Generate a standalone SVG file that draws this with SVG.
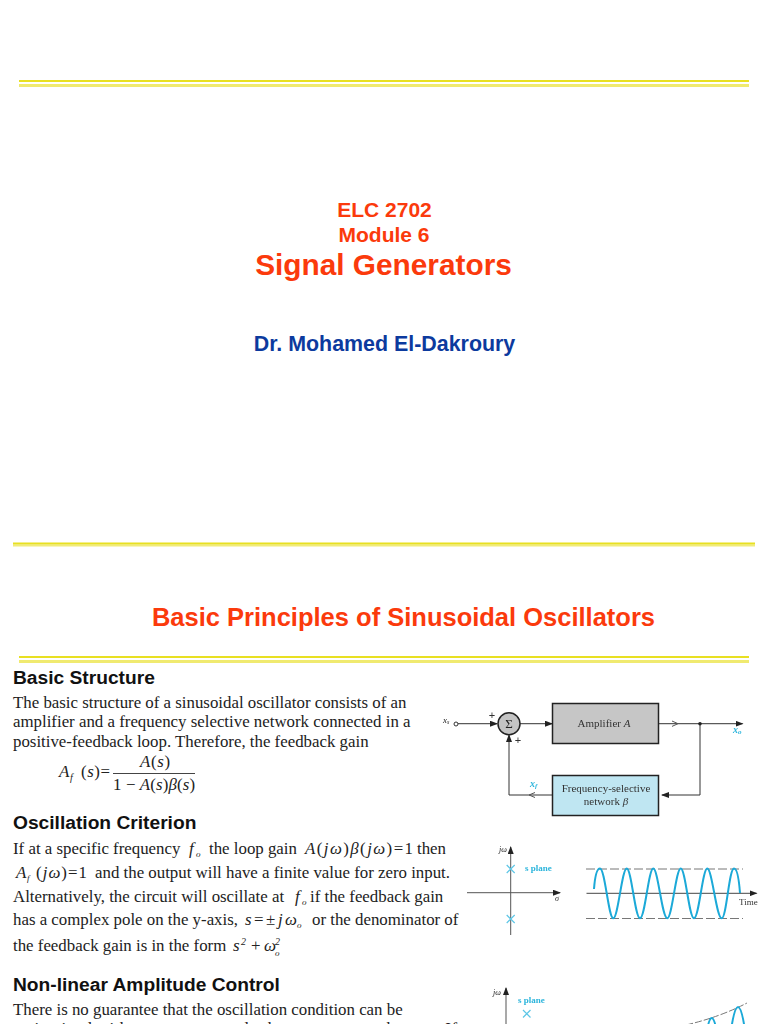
<svg xmlns="http://www.w3.org/2000/svg" width="768" height="1024" viewBox="0 0 768 1024">
<style>
.t{font-family:"Liberation Serif",serif;font-size:16.85px;fill:#222}
.i{font-family:"Liberation Serif",serif;font-style:italic;fill:#222}
.h{font-family:"Liberation Sans",sans-serif;font-weight:700;font-size:19.2px;fill:#111}
.r{font-family:"Liberation Sans",sans-serif;font-weight:700;fill:#fb3a0c;text-anchor:middle}
.c{fill:#2db5dc;font-family:"Liberation Serif",serif}
.b{font-family:"Liberation Serif",serif;font-size:11px;text-anchor:middle;fill:#333}
.k{stroke:#333;fill:none;stroke-width:1}
.y1{stroke:#e8e022;stroke-width:2}
.y2{stroke:#f0ea70;stroke-width:3}
.x{stroke:#5cc6e6;stroke-width:1.200;fill:none}
</style>
<defs>
<marker id="a" markerWidth="8" markerHeight="6" refX="7" refY="3" orient="auto"><path d="M0 0L8 3L0 6z" fill="#222"/></marker>
<filter id="soft" x="-5%" y="-5%" width="110%" height="110%"><feGaussianBlur stdDeviation="0.35"/></filter>
</defs>
<rect width="768" height="1024" fill="#fff"/>
<g id="rules">
<path class="y1" d="M19 81H749"/><path class="y2" d="M19 85.500H749"/>
<path class="y1" d="M13 543.500H755"/><path class="y1" d="M13 545.500H755" opacity=".6"/>
<path class="y1" d="M19 657H749"/><path class="y2" d="M19 661.500H749"/>
</g>
<g id="title">
<text class="r" x="384.500" y="217" font-size="21">ELC 2702</text>
<text class="r" x="384" y="242" font-size="21">Module 6</text>
<text class="r" x="383.500" y="275" font-size="29.800">Signal Generators</text>
<text x="384.500" y="351" text-anchor="middle" font-family="Liberation Sans,sans-serif" font-weight="700" font-size="21.400" fill="#0c3a9e">Dr. Mohamed El-Dakroury</text>
<text class="r" x="403.500" y="626" font-size="25.500">Basic Principles of Sinusoidal Oscillators</text>
</g>
<g id="text-left">
<text class="h" x="13" y="684">Basic Structure</text>
<text class="t" x="13" y="708">The basic structure of a sinusoidal oscillator consists of an</text>
<text class="t" x="13" y="727">amplifier and a frequency selective network connected in a</text>
<text class="t" x="13" y="747">positive-feedback loop. Therefore, the feedback gain</text>
<text class="i" x="59" y="777" font-size="17">A</text><text class="i" x="70" y="781" font-size="10">f</text>
<text class="t" x="81" y="777" textLength="29">(<tspan font-style="italic">s</tspan>)=</text>
<text class="t" x="140" y="767" textLength="30"><tspan font-style="italic">A</tspan>(<tspan font-style="italic">s</tspan>)</text>
<path d="M113 773.500H195" stroke="#444"/>
<text class="t" x="113" y="790" textLength="82">1 − <tspan font-style="italic">A</tspan>(<tspan font-style="italic">s</tspan>)<tspan font-style="italic">β</tspan>(<tspan font-style="italic">s</tspan>)</text>
<text class="h" x="13" y="829">Oscillation Criterion</text>
<text class="t" x="13" y="854">If at a specific frequency</text>
<text class="i" x="189" y="854" font-size="17">f</text><text class="i" x="196" y="857" font-size="9">o</text>
<text class="t" x="209" y="854">the loop gain</text>
<text class="t" x="305" y="854" textLength="108"><tspan font-style="italic">A</tspan>(<tspan font-style="italic">jω</tspan>)<tspan font-style="italic">β</tspan>(<tspan font-style="italic">jω</tspan>)=1</text>
<text class="t" x="417" y="854">then</text>
<text class="i" x="16" y="878" font-size="17">A</text><text class="i" x="27" y="881" font-size="9">f</text>
<text class="t" x="36" y="878" textLength="51">(<tspan font-style="italic">jω</tspan>)=1</text>
<text class="t" x="95" y="878">and the output will have a finite value for zero input.</text>
<text class="t" x="13" y="902">Alternatively, the circuit will oscillate at</text>
<text class="i" x="295" y="902" font-size="17">f</text><text class="i" x="302" y="905" font-size="9">o</text>
<text class="t" x="310" y="902">if the feedback gain</text>
<text class="t" x="13" y="925">has a complex pole on the y-axis,</text>
<text class="t" x="245" y="925" textLength="52"><tspan font-style="italic">s</tspan>=±<tspan font-style="italic">jω</tspan></text><text class="i" x="297" y="928" font-size="9">o</text>
<text class="t" x="312" y="925">or the denominator of</text>
<text class="t" x="13" y="951">the feedback gain is in the form</text>
<text class="i" x="233" y="951" font-size="17">s</text><text class="i" x="241" y="945" font-size="10" font-style="normal">2</text><text class="t" x="251" y="951">+</text><text class="i" x="264" y="951" font-size="17">ω</text><text class="i" x="275" y="956" font-size="9">o</text><text class="i" x="275" y="945" font-size="10" font-style="normal">2</text>
<text class="h" x="13" y="991">Non-linear Amplitude Control</text>
<text class="t" x="13" y="1015">There is no guarantee that the oscillation condition can be</text>
<text class="t" x="13" y="1034" textLength="444">maintained with temperature and other component changes. If</text>
</g>
<g id="connectors" filter="url(#soft)">
<path class="k" d="M458 723.700H497" marker-end="url(#a)"/>
<path class="k" d="M520 723.700H552" marker-end="url(#a)"/>
<path class="k" d="M659 723.700H742.500" marker-end="url(#a)"/>
<path d="M672 721l6 2.700l-6 2.700" fill="none" stroke="#555"/>
<path class="k" d="M700 723.700V795H662" marker-end="url(#a)"/>
<path class="k" d="M552 795H509V735" marker-end="url(#a)"/>
<path d="M535 792.500l-6 2.500l6 2.500" fill="none" stroke="#555"/>
<circle cx="700" cy="723.700" r="1.800" fill="#222"/>
</g>
<g id="node-input" filter="url(#soft)"><circle cx="456" cy="724" r="2" fill="#fff" stroke="#333"/><text class="i" x="443" y="723" font-size="9">x<tspan font-size="6" dy="1">s</tspan></text></g>
<g id="node-sum" filter="url(#soft)"><circle cx="509" cy="723.700" r="11" fill="#c4c4c4" stroke="#222" stroke-width="1.500"/><text x="509" y="728" font-family="Liberation Serif,serif" font-size="13" text-anchor="middle" fill="#222">Σ</text>
<text x="492" y="719" font-family="Liberation Sans,sans-serif" font-size="11" text-anchor="middle" fill="#333">+</text><text x="518" y="744" font-family="Liberation Sans,sans-serif" font-size="11" text-anchor="middle" fill="#333">+</text></g>
<g id="node-amplifier" filter="url(#soft)"><rect x="552.500" y="703.500" width="106" height="40" fill="#c6c6c6" stroke="#222" stroke-width="1.500"/><text class="b" x="604" y="727">Amplifier <tspan font-style="italic">A</tspan></text></g>
<g id="node-network" filter="url(#soft)"><rect x="552.500" y="775.500" width="106" height="40" fill="#bfe6f2" stroke="#222" stroke-width="1.500"/><text class="b" x="606" y="792">Frequency-selective</text><text class="b" x="606" y="804.500">network <tspan font-style="italic">β</tspan></text></g>
<g id="labels" filter="url(#soft)"><text class="c" x="530" y="787" font-size="10" font-style="italic" font-weight="700">x<tspan font-size="7" dy="1">f</tspan></text><text class="c" x="733" y="733" font-size="10" font-style="italic" font-weight="700">x<tspan font-size="7" dy="1">o</tspan></text></g>
<g id="plot-splane" filter="url(#soft)">
<path d="M467 892.700H560" stroke="#555" marker-end="url(#a)"/>
<path d="M510.700 935V847" stroke="#555" marker-end="url(#a)"/>
<text class="i" x="499" y="852" font-size="8">jω</text><text class="i" x="555" y="901" font-size="8">σ</text>
<path class="x" d="M506.700 865l8 8m0-8l-8 8M506.700 915l8 8m0-8l-8 8"/>
<text class="c" x="525" y="871" font-size="9" font-weight="700">s plane</text>
</g>
<g id="plot-wave" filter="url(#soft)">
<path d="M586 869H743M586 918.500H743" stroke="#777" stroke-dasharray="9 3" fill="none"/>
<path d="M586.500 893.300H756.500" stroke="#444" marker-end="url(#a)"/>
<path d="M594 889C595 876 597 868.500 600 868.500C605 868.500 608.500 918.300 613.300 918.300C618 918.300 622 868.500 626.700 868.500C631.500 868.500 635 918.300 640 918.300C645 918.300 648.500 868.500 653.300 868.500C658 868.500 662 918.300 667.300 918.300C672 918.300 676 868.500 680.700 868.500C685.500 868.500 689 918.300 694 918.300C699 918.300 702.500 868.500 707.300 868.500C712 868.500 716.500 918.300 721.700 918.300C726.500 918.300 729 868.500 734 868.500C737.500 868.500 739 880 740 893" stroke="#1aa9d8" stroke-width="2" fill="none"/>
<text x="739" y="905" font-family="Liberation Serif,serif" font-size="9" fill="#333">Time</text>
</g>
<g id="plot-growing" filter="url(#soft)">
<path d="M506 1030V988" stroke="#555" marker-end="url(#a)"/>
<text class="i" x="493" y="995" font-size="8">jω</text>
<text class="c" x="518" y="1003" font-size="9" font-weight="700">s plane</text>
<path class="x" d="M523 1010l7.500 7.500m0-7.500l-7.500 7.500"/>
<path d="M686 1025Q720 1017 747 1003" stroke="#777" stroke-dasharray="7 2" fill="none"/>
<path d="M707 1030Q711.700 1006 716.500 1030M731 1030Q738 984 745 1030" stroke="#1aa9d8" stroke-width="2" fill="none"/>
</g>
</svg>
